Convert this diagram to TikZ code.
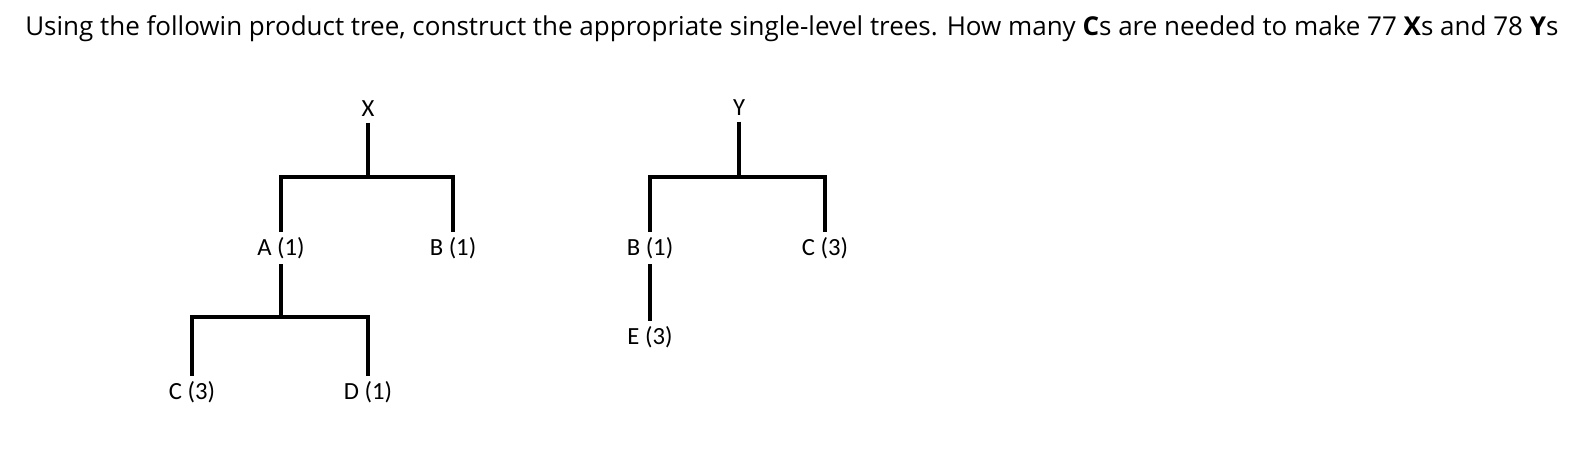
\documentclass[tikz,border=0pt]{standalone}
\usepackage{fontspec}
\setmainfont{Open Sans}
\newfontfamily\treefont{Carlito}
\usetikzlibrary{calc}

\tikzset{
  branch/.style={line width=2.6pt},
  part/.style={font=\treefont\fontsize{18.5}{22}\selectfont, inner sep=4pt}
}

\begin{document}
\begin{tikzpicture}[x=0.75pt, y=-0.75pt]
\useasboundingbox (0,0) rectangle (1588,462);

\node[anchor=base west, inner sep=0pt, font=\fontsize{19.5}{23}\selectfont] (title) at (25,35.5)
  {Using the followin product tree, construct the appropriate single-level trees. How many \textbf{C}s are needed to make 77 \textbf{X}s and 78 \textbf{Y}s};

\node[part] (x) at (368,109) {X};
\coordinate (xj) at (368,177);
\node[part] (a) at (281,248) {A (1)};
\node[part] (bx) at (453,248) {B (1)};
\coordinate (aj) at (281,317);
\node[part] (cx) at (192,392) {C (3)};
\node[part] (d) at (368,392) {D (1)};

\draw[branch] (x) -- (xj);
\draw[branch] (a.north) |- (xj) -| (bx.north);
\draw[branch] (a) -- (aj);
\draw[branch] (cx.north) |- (aj) -| (d.north);

\node[part] (y) at (739,108) {Y};
\coordinate (yj) at (739,177);
\node[part] (by) at (650,248) {B (1)};
\node[part] (cy) at (825,248) {C (3)};
\node[part] (e) at (650,337) {E (3)};

\draw[branch] (y) -- (yj);
\draw[branch] (by.north) |- (yj) -| (cy.north);
\draw[branch] (by) -- (e);

\end{tikzpicture}
\end{document}
